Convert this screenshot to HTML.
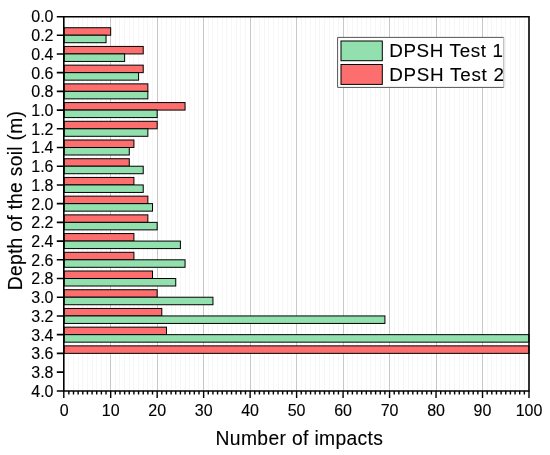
<!DOCTYPE html><html><head><meta charset="utf-8"><style>html,body{margin:0;padding:0;background:#fff;}svg{display:block;}text{font-family:"Liberation Sans",Arial,sans-serif;fill:#000;stroke:#000;stroke-width:0.12px;}</style></head><body>
<svg width="550" height="455" viewBox="0 0 550 455">
<rect width="550" height="455" fill="#fff"/>
<path d="M68.50 16.70V391.00M73.50 16.70V391.00M78.50 16.70V391.00M82.50 16.70V391.00M87.50 16.70V391.00M92.50 16.70V391.00M96.50 16.70V391.00M101.50 16.70V391.00M106.50 16.70V391.00M115.50 16.70V391.00M119.50 16.70V391.00M124.50 16.70V391.00M129.50 16.70V391.00M133.50 16.70V391.00M138.50 16.70V391.00M143.50 16.70V391.00M147.50 16.70V391.00M152.50 16.70V391.00M161.50 16.70V391.00M166.50 16.70V391.00M171.50 16.70V391.00M175.50 16.70V391.00M180.50 16.70V391.00M185.50 16.70V391.00M189.50 16.70V391.00M194.50 16.70V391.00M198.50 16.70V391.00M208.50 16.70V391.00M212.50 16.70V391.00M217.50 16.70V391.00M222.50 16.70V391.00M226.50 16.70V391.00M231.50 16.70V391.00M236.50 16.70V391.00M240.50 16.70V391.00M245.50 16.70V391.00M254.50 16.70V391.00M259.50 16.70V391.00M264.50 16.70V391.00M268.50 16.70V391.00M273.50 16.70V391.00M278.50 16.70V391.00M282.50 16.70V391.00M287.50 16.70V391.00M291.50 16.70V391.00M301.50 16.70V391.00M305.50 16.70V391.00M310.50 16.70V391.00M315.50 16.70V391.00M319.50 16.70V391.00M324.50 16.70V391.00M329.50 16.70V391.00M333.50 16.70V391.00M338.50 16.70V391.00M347.50 16.70V391.00M352.50 16.70V391.00M357.50 16.70V391.00M361.50 16.70V391.00M366.50 16.70V391.00M370.50 16.70V391.00M375.50 16.70V391.00M380.50 16.70V391.00M384.50 16.70V391.00M394.50 16.70V391.00M398.50 16.70V391.00M403.50 16.70V391.00M408.50 16.70V391.00M412.50 16.70V391.00M417.50 16.70V391.00M422.50 16.70V391.00M426.50 16.70V391.00M431.50 16.70V391.00M440.50 16.70V391.00M445.50 16.70V391.00M449.50 16.70V391.00M454.50 16.70V391.00M459.50 16.70V391.00M463.50 16.70V391.00M468.50 16.70V391.00M473.50 16.70V391.00M477.50 16.70V391.00M487.50 16.70V391.00M491.50 16.70V391.00M496.50 16.70V391.00M501.50 16.70V391.00M505.50 16.70V391.00M510.50 16.70V391.00M515.50 16.70V391.00M519.50 16.70V391.00M524.50 16.70V391.00" stroke="#f6f6f6" stroke-width="1" fill="none"/>
<path d="M110.50 16.70V391.00M157.50 16.70V391.00M203.50 16.70V391.00M250.50 16.70V391.00M296.50 16.70V391.00M343.50 16.70V391.00M389.50 16.70V391.00M436.50 16.70V391.00M482.50 16.70V391.00" stroke="#c8c8c8" stroke-width="1" fill="none"/>
<rect x="64.20" y="27.72" width="46.48" height="7.50" fill="#FD6F6F" stroke="#000" stroke-width="1"/>
<rect x="64.20" y="35.22" width="41.83" height="7.50" fill="#91E0AE" stroke="#000" stroke-width="1"/>
<rect x="64.20" y="46.43" width="79.02" height="7.50" fill="#FD6F6F" stroke="#000" stroke-width="1"/>
<rect x="64.20" y="53.93" width="60.42" height="7.50" fill="#91E0AE" stroke="#000" stroke-width="1"/>
<rect x="64.20" y="65.15" width="79.02" height="7.50" fill="#FD6F6F" stroke="#000" stroke-width="1"/>
<rect x="64.20" y="72.65" width="74.37" height="7.50" fill="#91E0AE" stroke="#000" stroke-width="1"/>
<rect x="64.20" y="83.86" width="83.66" height="7.50" fill="#FD6F6F" stroke="#000" stroke-width="1"/>
<rect x="64.20" y="91.36" width="83.66" height="7.50" fill="#91E0AE" stroke="#000" stroke-width="1"/>
<rect x="64.20" y="102.58" width="120.85" height="7.50" fill="#FD6F6F" stroke="#000" stroke-width="1"/>
<rect x="64.20" y="110.08" width="92.96" height="7.50" fill="#91E0AE" stroke="#000" stroke-width="1"/>
<rect x="64.20" y="121.29" width="92.96" height="7.50" fill="#FD6F6F" stroke="#000" stroke-width="1"/>
<rect x="64.20" y="128.79" width="83.66" height="7.50" fill="#91E0AE" stroke="#000" stroke-width="1"/>
<rect x="64.20" y="140.00" width="69.72" height="7.50" fill="#FD6F6F" stroke="#000" stroke-width="1"/>
<rect x="64.20" y="147.50" width="65.07" height="7.50" fill="#91E0AE" stroke="#000" stroke-width="1"/>
<rect x="64.20" y="158.72" width="65.07" height="7.50" fill="#FD6F6F" stroke="#000" stroke-width="1"/>
<rect x="64.20" y="166.22" width="79.02" height="7.50" fill="#91E0AE" stroke="#000" stroke-width="1"/>
<rect x="64.20" y="177.44" width="69.72" height="7.50" fill="#FD6F6F" stroke="#000" stroke-width="1"/>
<rect x="64.20" y="184.94" width="79.02" height="7.50" fill="#91E0AE" stroke="#000" stroke-width="1"/>
<rect x="64.20" y="196.15" width="83.66" height="7.50" fill="#FD6F6F" stroke="#000" stroke-width="1"/>
<rect x="64.20" y="203.65" width="88.31" height="7.50" fill="#91E0AE" stroke="#000" stroke-width="1"/>
<rect x="64.20" y="214.87" width="83.66" height="7.50" fill="#FD6F6F" stroke="#000" stroke-width="1"/>
<rect x="64.20" y="222.37" width="92.96" height="7.50" fill="#91E0AE" stroke="#000" stroke-width="1"/>
<rect x="64.20" y="233.58" width="69.72" height="7.50" fill="#FD6F6F" stroke="#000" stroke-width="1"/>
<rect x="64.20" y="241.08" width="116.20" height="7.50" fill="#91E0AE" stroke="#000" stroke-width="1"/>
<rect x="64.20" y="252.30" width="69.72" height="7.50" fill="#FD6F6F" stroke="#000" stroke-width="1"/>
<rect x="64.20" y="259.80" width="120.85" height="7.50" fill="#91E0AE" stroke="#000" stroke-width="1"/>
<rect x="64.20" y="271.01" width="88.31" height="7.50" fill="#FD6F6F" stroke="#000" stroke-width="1"/>
<rect x="64.20" y="278.51" width="111.55" height="7.50" fill="#91E0AE" stroke="#000" stroke-width="1"/>
<rect x="64.20" y="289.73" width="92.96" height="7.50" fill="#FD6F6F" stroke="#000" stroke-width="1"/>
<rect x="64.20" y="297.23" width="148.74" height="7.50" fill="#91E0AE" stroke="#000" stroke-width="1"/>
<rect x="64.20" y="308.44" width="97.61" height="7.50" fill="#FD6F6F" stroke="#000" stroke-width="1"/>
<rect x="64.20" y="315.94" width="320.71" height="7.50" fill="#91E0AE" stroke="#000" stroke-width="1"/>
<rect x="64.20" y="327.16" width="102.26" height="7.50" fill="#FD6F6F" stroke="#000" stroke-width="1"/>
<rect x="64.20" y="334.66" width="464.80" height="7.50" fill="#91E0AE" stroke="#000" stroke-width="1"/>
<rect x="64.20" y="345.87" width="464.80" height="7.50" fill="#FD6F6F" stroke="#000" stroke-width="1"/>
<path d="M63.8 16.7H529.0V391.0H63.8Z" fill="none" stroke="#000" stroke-width="1.6" stroke-linejoin="miter"/>
<path d="M56.80 16.70H63.80M56.80 35.22H63.80M56.80 53.93H63.80M56.80 72.65H63.80M56.80 91.36H63.80M56.80 110.08H63.80M56.80 128.79H63.80M56.80 147.51H63.80M56.80 166.22H63.80M56.80 184.94H63.80M56.80 203.65H63.80M56.80 222.37H63.80M56.80 241.08H63.80M56.80 259.80H63.80M56.80 278.51H63.80M56.80 297.23H63.80M56.80 315.94H63.80M56.80 334.66H63.80M56.80 353.37H63.80M56.80 372.09H63.80M56.80 391.00H63.80" stroke="#000" stroke-width="1.6" fill="none"/>
<path d="M63.80 391.00V398.00M68.85 391.00V394.50M73.50 391.00V394.50M78.14 391.00V394.50M82.79 391.00V394.50M87.44 391.00V394.50M92.09 391.00V394.50M96.74 391.00V394.50M101.38 391.00V394.50M106.03 391.00V394.50M110.68 391.00V398.00M115.33 391.00V394.50M119.98 391.00V394.50M124.62 391.00V394.50M129.27 391.00V394.50M133.92 391.00V394.50M138.57 391.00V394.50M143.22 391.00V394.50M147.86 391.00V394.50M152.51 391.00V394.50M157.16 391.00V398.00M161.81 391.00V394.50M166.46 391.00V394.50M171.10 391.00V394.50M175.75 391.00V394.50M180.40 391.00V394.50M185.05 391.00V394.50M189.70 391.00V394.50M194.34 391.00V394.50M198.99 391.00V394.50M203.64 391.00V398.00M208.29 391.00V394.50M212.94 391.00V394.50M217.58 391.00V394.50M222.23 391.00V394.50M226.88 391.00V394.50M231.53 391.00V394.50M236.18 391.00V394.50M240.82 391.00V394.50M245.47 391.00V394.50M250.12 391.00V398.00M254.77 391.00V394.50M259.42 391.00V394.50M264.06 391.00V394.50M268.71 391.00V394.50M273.36 391.00V394.50M278.01 391.00V394.50M282.66 391.00V394.50M287.30 391.00V394.50M291.95 391.00V394.50M296.60 391.00V398.00M301.25 391.00V394.50M305.90 391.00V394.50M310.54 391.00V394.50M315.19 391.00V394.50M319.84 391.00V394.50M324.49 391.00V394.50M329.14 391.00V394.50M333.78 391.00V394.50M338.43 391.00V394.50M343.08 391.00V398.00M347.73 391.00V394.50M352.38 391.00V394.50M357.02 391.00V394.50M361.67 391.00V394.50M366.32 391.00V394.50M370.97 391.00V394.50M375.62 391.00V394.50M380.26 391.00V394.50M384.91 391.00V394.50M389.56 391.00V398.00M394.21 391.00V394.50M398.86 391.00V394.50M403.50 391.00V394.50M408.15 391.00V394.50M412.80 391.00V394.50M417.45 391.00V394.50M422.10 391.00V394.50M426.74 391.00V394.50M431.39 391.00V394.50M436.04 391.00V398.00M440.69 391.00V394.50M445.34 391.00V394.50M449.98 391.00V394.50M454.63 391.00V394.50M459.28 391.00V394.50M463.93 391.00V394.50M468.58 391.00V394.50M473.22 391.00V394.50M477.87 391.00V394.50M482.52 391.00V398.00M487.17 391.00V394.50M491.82 391.00V394.50M496.46 391.00V394.50M501.11 391.00V394.50M505.76 391.00V394.50M510.41 391.00V394.50M515.06 391.00V394.50M519.70 391.00V394.50M524.35 391.00V394.50M529.00 391.00V398.00" stroke="#000" stroke-width="1.4" fill="none"/>
<text x="53.5" y="22.40" font-size="16" text-anchor="end">0.0</text>
<text x="53.5" y="41.12" font-size="16" text-anchor="end">0.2</text>
<text x="53.5" y="59.83" font-size="16" text-anchor="end">0.4</text>
<text x="53.5" y="78.55" font-size="16" text-anchor="end">0.6</text>
<text x="53.5" y="97.26" font-size="16" text-anchor="end">0.8</text>
<text x="53.5" y="115.98" font-size="16" text-anchor="end">1.0</text>
<text x="53.5" y="134.69" font-size="16" text-anchor="end">1.2</text>
<text x="53.5" y="153.41" font-size="16" text-anchor="end">1.4</text>
<text x="53.5" y="172.12" font-size="16" text-anchor="end">1.6</text>
<text x="53.5" y="190.84" font-size="16" text-anchor="end">1.8</text>
<text x="53.5" y="209.55" font-size="16" text-anchor="end">2.0</text>
<text x="53.5" y="228.27" font-size="16" text-anchor="end">2.2</text>
<text x="53.5" y="246.98" font-size="16" text-anchor="end">2.4</text>
<text x="53.5" y="265.69" font-size="16" text-anchor="end">2.6</text>
<text x="53.5" y="284.41" font-size="16" text-anchor="end">2.8</text>
<text x="53.5" y="303.12" font-size="16" text-anchor="end">3.0</text>
<text x="53.5" y="321.84" font-size="16" text-anchor="end">3.2</text>
<text x="53.5" y="340.56" font-size="16" text-anchor="end">3.4</text>
<text x="53.5" y="359.27" font-size="16" text-anchor="end">3.6</text>
<text x="53.5" y="377.99" font-size="16" text-anchor="end">3.8</text>
<text x="53.5" y="396.70" font-size="16" text-anchor="end">4.0</text>
<text x="64.20" y="416.4" font-size="16" text-anchor="middle">0</text>
<text x="110.68" y="416.4" font-size="16" text-anchor="middle">10</text>
<text x="157.16" y="416.4" font-size="16" text-anchor="middle">20</text>
<text x="203.64" y="416.4" font-size="16" text-anchor="middle">30</text>
<text x="250.12" y="416.4" font-size="16" text-anchor="middle">40</text>
<text x="296.60" y="416.4" font-size="16" text-anchor="middle">50</text>
<text x="343.08" y="416.4" font-size="16" text-anchor="middle">60</text>
<text x="389.56" y="416.4" font-size="16" text-anchor="middle">70</text>
<text x="436.04" y="416.4" font-size="16" text-anchor="middle">80</text>
<text x="482.52" y="416.4" font-size="16" text-anchor="middle">90</text>
<text x="529.00" y="416.4" font-size="16" text-anchor="middle">100</text>
<text x="215.6" y="444.6" font-size="19.3" textLength="167.3" lengthAdjust="spacing">Number of impacts</text>
<text transform="translate(21.5 290.3) rotate(-90)" font-size="19.3" textLength="179.2" lengthAdjust="spacing">Depth of the soil (m)</text>
<rect x="337.6" y="37.4" width="166.2" height="50" fill="#fff"/>
<path d="M503.8 37.4H337.6V87.4H503.8" fill="none" stroke="#555" stroke-width="1"/>
<path d="M503.8 37.4V87.4" fill="none" stroke="#aaa" stroke-width="1"/>
<rect x="341" y="41" width="41.3" height="19.7" fill="#91E0AE" stroke="#000" stroke-width="1"/>
<rect x="341" y="64.5" width="41.3" height="19.9" fill="#FD6F6F" stroke="#000" stroke-width="1"/>
<text x="389.2" y="57.3" font-size="18.8" textLength="113.8" lengthAdjust="spacing">DPSH Test 1</text>
<text x="389.2" y="80.9" font-size="18.8" textLength="114.8" lengthAdjust="spacing">DPSH Test 2</text>
</svg></body></html>
